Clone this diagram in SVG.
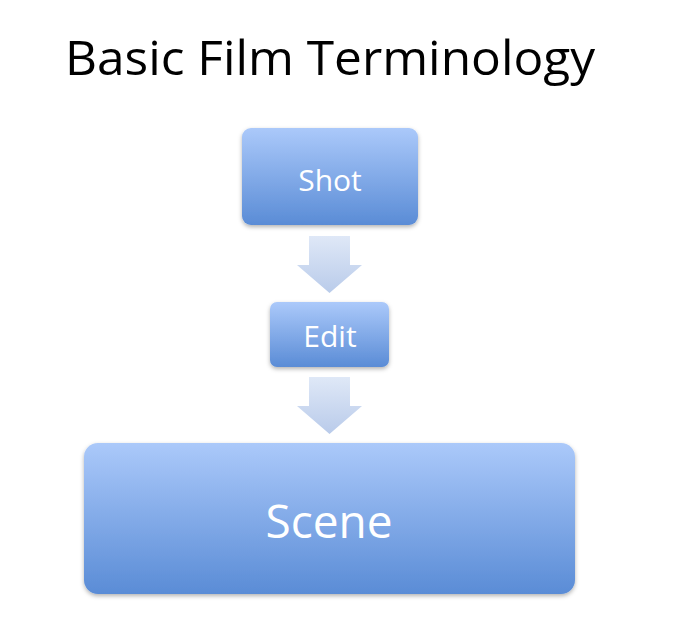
<svg xmlns="http://www.w3.org/2000/svg" width="678" height="624" viewBox="0 0 678 624">
<defs>
<linearGradient id="box" x1="0" y1="0" x2="0" y2="1">
<stop offset="0" stop-color="#abc9fa"/>
<stop offset="1" stop-color="#5a8cd6"/>
</linearGradient>
<linearGradient id="arr" x1="0" y1="0" x2="0" y2="1">
<stop offset="0" stop-color="#dfe8f7"/>
<stop offset="1" stop-color="#b9cbea"/>
</linearGradient>
<filter id="sh" x="-10%" y="-10%" width="120%" height="130%">
<feDropShadow dx="0" dy="2" stdDeviation="2" flood-color="#000" flood-opacity="0.3"/>
</filter>
</defs>
<style>
.box{fill:url(#box);filter:url(#sh)}
.lbl{font-family:"Open Sans","Liberation Sans",sans-serif;fill:#fff;text-anchor:middle}
.arrow{fill:url(#arr)}
</style>
<rect width="678" height="624" fill="#fff"/>
<text x="65" y="75" font-family="'Open Sans','Liberation Sans',sans-serif" font-size="48" fill="#000" textLength="530" lengthAdjust="spacingAndGlyphs">Basic Film Terminology</text>
<g id="connectors">
<path class="arrow" d="M309 236 H350 V265 H362 L329.5 293 L297 265 H309 Z"/>
<path class="arrow" d="M309 377 H350 V406 H362 L329.5 434 L297 406 H309 Z"/>
</g>
<g id="shot">
<rect class="box" x="242" y="128" width="176" height="97" rx="9"/>
<text class="lbl" x="330" y="191" font-size="30">Shot</text>
</g>
<g id="edit">
<rect class="box" x="270" y="302" width="119" height="65" rx="7"/>
<text class="lbl" x="330" y="347" font-size="30">Edit</text>
</g>
<g id="scene">
<rect class="box" x="84" y="443" width="491" height="151" rx="14"/>
<text class="lbl" x="329" y="538" font-size="46">Scene</text>
</g>
</svg>
